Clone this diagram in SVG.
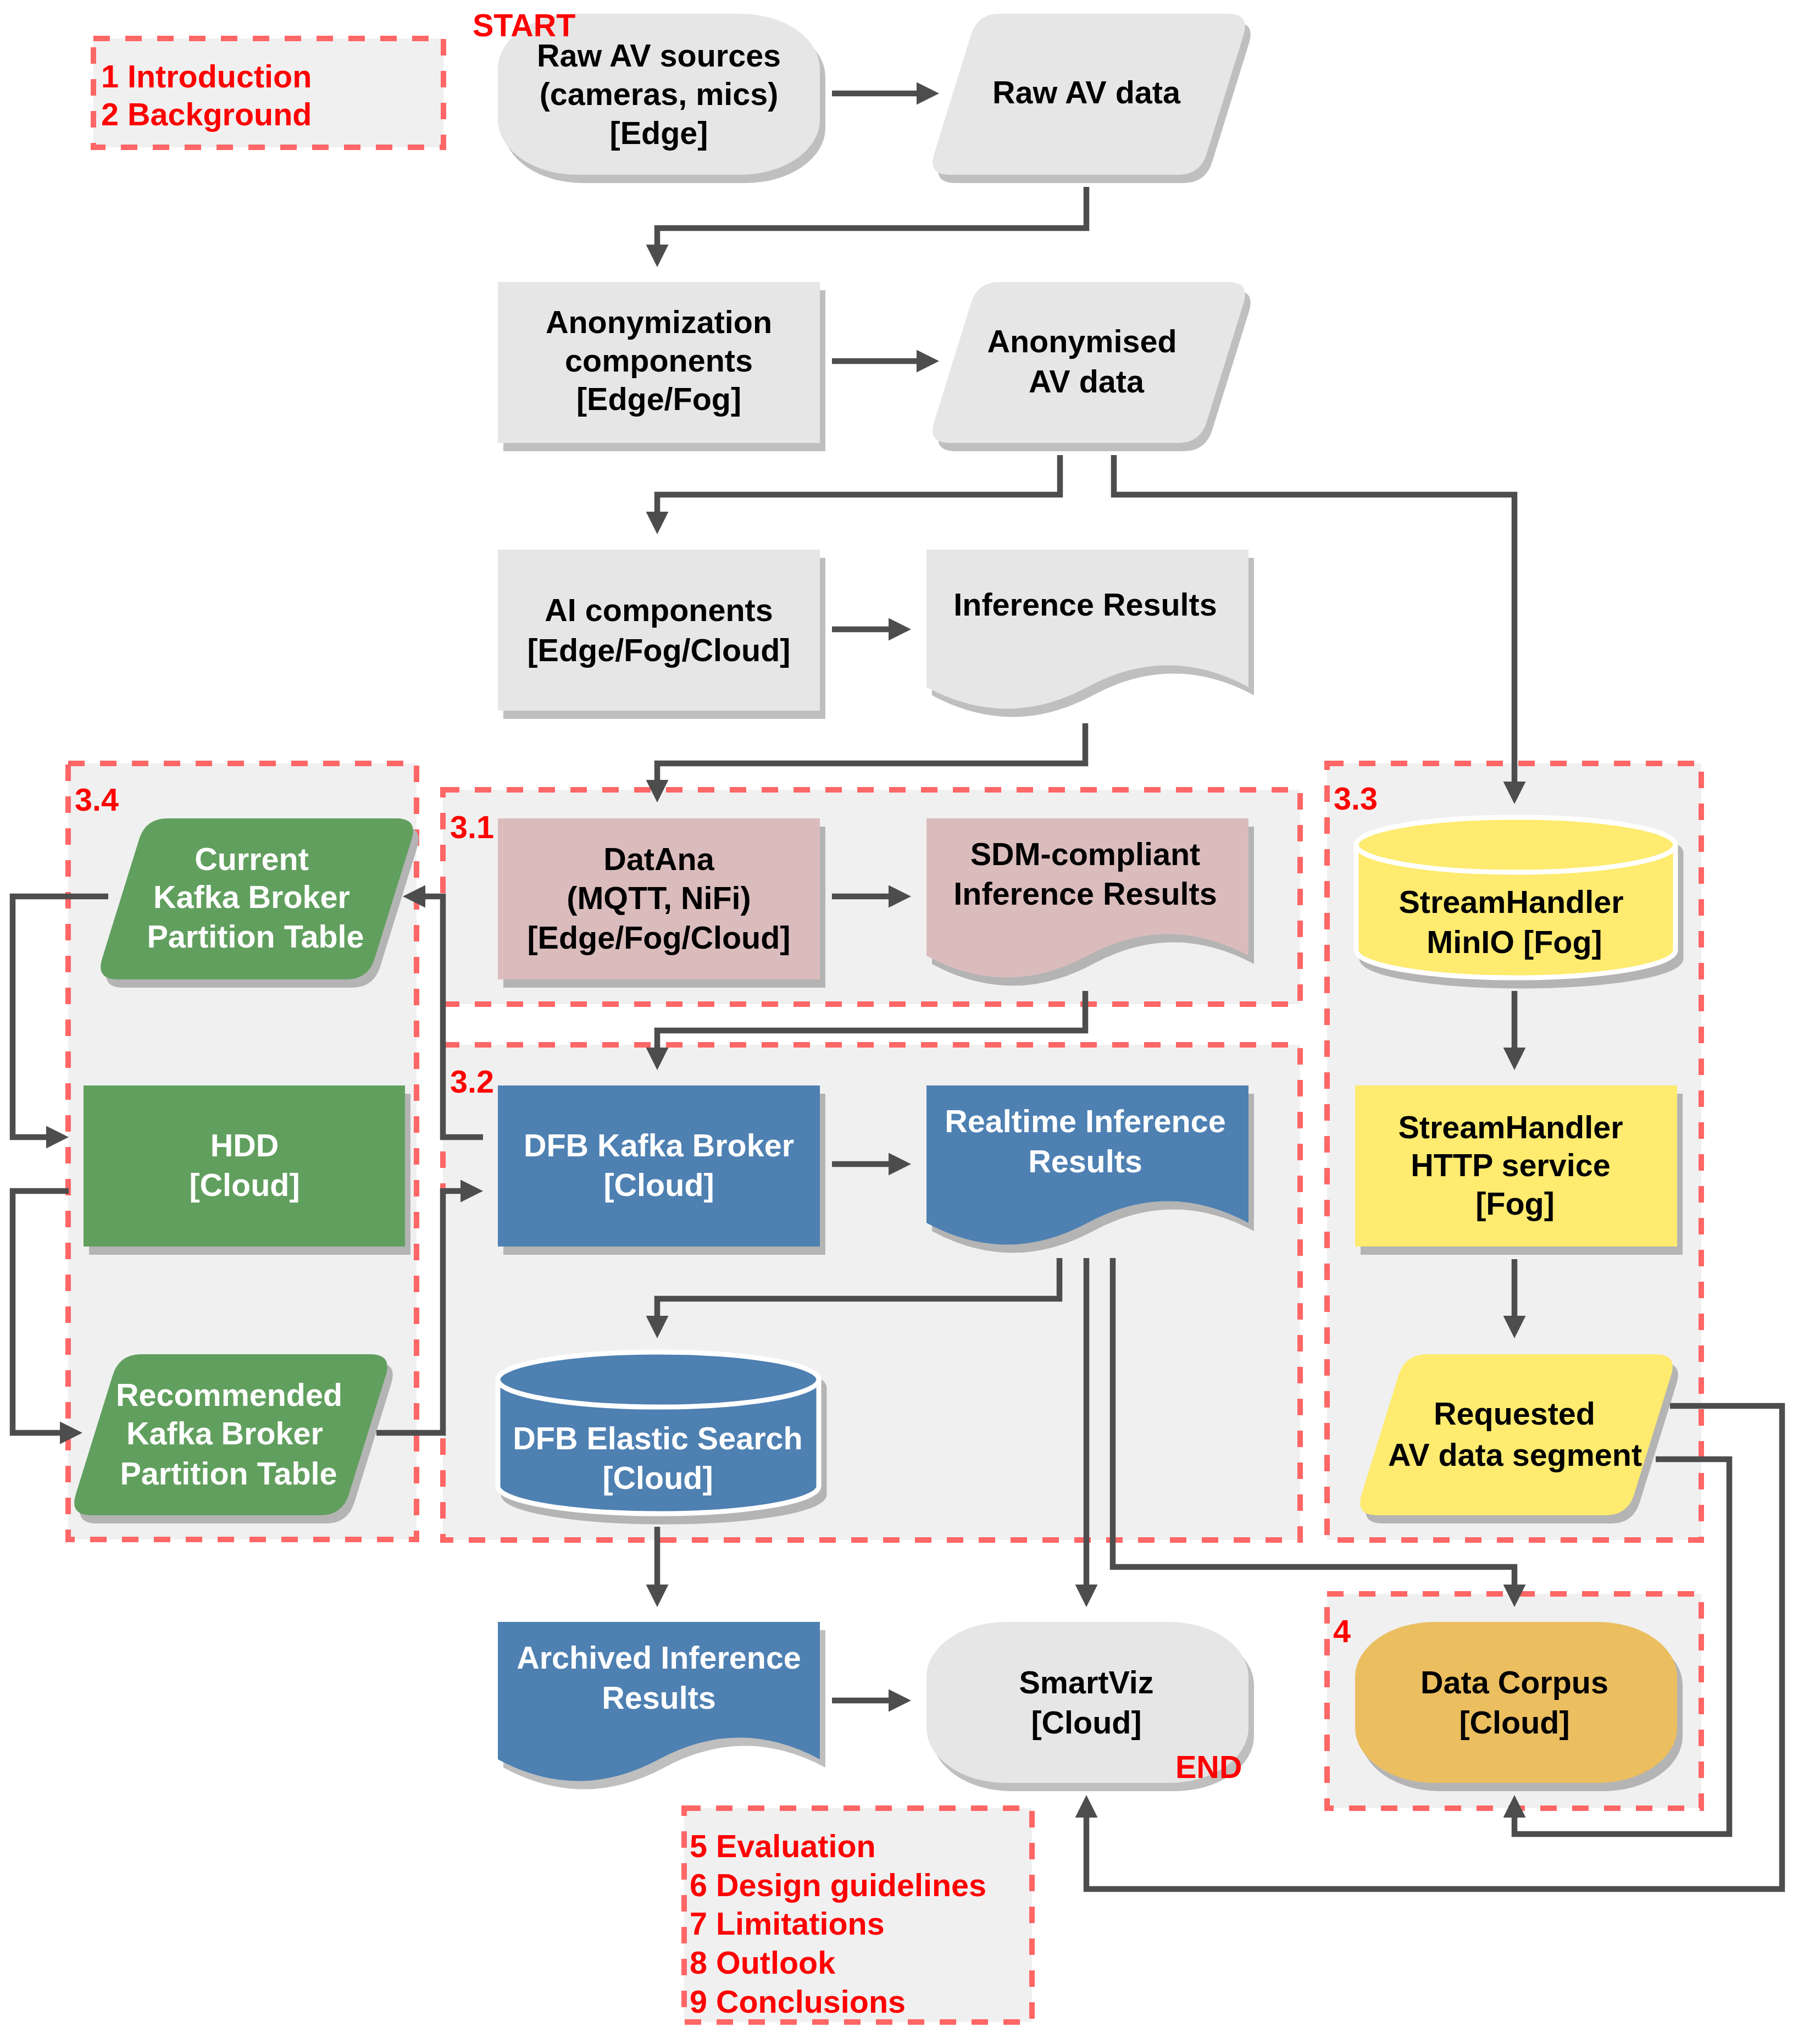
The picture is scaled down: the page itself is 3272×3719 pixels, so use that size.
<svg xmlns="http://www.w3.org/2000/svg" width="3272" height="3719" viewBox="0 0 3272 3719">
<defs>
<style>
.grp{fill:#F0F0F0;stroke:#FF6666;stroke-width:10;stroke-dasharray:30 28}
.con{fill:none;stroke:#4D4D4D;stroke-width:10.5;stroke-linejoin:miter}
.shw{fill:#BFBFBF}
.shg{fill:#B4B4B4}
.gray{fill:#E6E6E6}
.pink{fill:#DBBCBD}
.blue{fill:#4E80B2}
.green{fill:#619F5E}
.yellow{fill:#FEEB6F}
.orange{fill:#EBBE60}
.cyl{stroke:#FFFFFF;stroke-width:9}
.cylsh{stroke:#B4B4B4;stroke-width:9}
text{font-family:"Liberation Sans",Arial,Helvetica,sans-serif;font-weight:bold;font-size:57.5px}
.t{text-anchor:middle;fill:#000000}
.w{text-anchor:middle;fill:#FFFFFF}
.r{fill:#FF0000}
</style>
<marker id="ah" markerUnits="userSpaceOnUse" markerWidth="41" markerHeight="41" viewBox="0 0 41 41" refX="11" refY="20.5" orient="auto">
<path d="M0,0 L41,20.5 L0,41 z" fill="#4D4D4D"/>
</marker>
</defs>
<rect width="3272" height="3719" fill="#FFFFFF"/>

<g id="groups">
<rect id="g-intro" class="grp" x="170" y="70" width="637" height="198"/>
<rect id="g-34" class="grp" x="124" y="1389" width="634" height="1412"/>
<rect id="g-31" class="grp" x="806" y="1437" width="1560" height="390"/>
<rect id="g-32" class="grp" x="806" y="1901" width="1560" height="901"/>
<rect id="g-33" class="grp" x="2415" y="1389" width="681" height="1413"/>
<rect id="g-4" class="grp" x="2415" y="2900" width="681" height="390"/>
<rect id="g-sections" class="grp" x="1245" y="3290" width="633" height="389"/>
</g>

<g id="node-raw-sources">
<rect class="shw" x="916" y="40" width="586" height="293" rx="145" ry="100"/>
<rect class="gray" x="906" y="25" width="586" height="293" rx="145" ry="100"/>
<text class="t" x="1199" y="121">Raw AV sources</text>
<text class="t" x="1199" y="191">(cameras, mics)</text>
<text class="t" x="1199" y="262">[Edge]</text>
</g>

<g id="node-raw-data">
<path class="shw" transform="translate(10,15)" d="M1819,25 H2235 Q2275,25 2263.1,63.2 L2195.9,279.8 Q2184,318 2144,318 H1728 Q1688,318 1699.9,279.8 L1767.1,63.2 Q1779,25 1819,25 Z"/>
<path class="gray" d="M1819,25 H2235 Q2275,25 2263.1,63.2 L2195.9,279.8 Q2184,318 2144,318 H1728 Q1688,318 1699.9,279.8 L1767.1,63.2 Q1779,25 1819,25 Z"/>
<text class="t" x="1977" y="188">Raw AV data</text>
</g>

<g id="node-anonymization">
<rect class="shw" x="916" y="528" width="586" height="293"/>
<rect class="gray" x="906" y="513" width="586" height="293"/>
<text class="t" x="1199" y="606">Anonymization</text>
<text class="t" x="1199" y="676">components</text>
<text class="t" x="1199" y="746">[Edge/Fog]</text>
</g>

<g id="node-anonymised">
<path class="shw" transform="translate(10,15)" d="M1819,513 H2235 Q2275,513 2263.1,551.2 L2195.9,767.8 Q2184,806 2144,806 H1728 Q1688,806 1699.9,767.8 L1767.1,551.2 Q1779,513 1819,513 Z"/>
<path class="gray" d="M1819,513 H2235 Q2275,513 2263.1,551.2 L2195.9,767.8 Q2184,806 2144,806 H1728 Q1688,806 1699.9,767.8 L1767.1,551.2 Q1779,513 1819,513 Z"/>
<text class="t" x="1969" y="641">Anonymised</text>
<text class="t" x="1977" y="714">AV data</text>
</g>

<g id="node-ai">
<rect class="shw" x="916" y="1015" width="586" height="293"/>
<rect class="gray" x="906" y="1000" width="586" height="293"/>
<text class="t" x="1199" y="1130">AI components</text>
<text class="t" x="1199" y="1203">[Edge/Fog/Cloud]</text>
</g>

<g id="node-inference">
<path class="shw" transform="translate(10,15)" d="M1686,1000 H2272 V1250 Q2125.5,1171 1979,1250 Q1832.5,1329 1686,1250 Z"/>
<path class="gray" d="M1686,1000 H2272 V1250 Q2125.5,1171 1979,1250 Q1832.5,1329 1686,1250 Z"/>
<text class="t" x="1975" y="1120">Inference Results</text>
</g>

<g id="node-datana">
<rect class="shg" x="916" y="1504" width="586" height="293"/>
<rect class="pink" x="906" y="1489" width="586" height="293"/>
<text class="t" x="1199" y="1583">DatAna</text>
<text class="t" x="1199" y="1654">(MQTT, NiFi)</text>
<text class="t" x="1199" y="1726">[Edge/Fog/Cloud]</text>
</g>

<g id="node-sdm">
<path class="shg" transform="translate(10,15)" d="M1686,1489 H2272 V1739 Q2125.5,1660 1979,1739 Q1832.5,1818 1686,1739 Z"/>
<path class="pink" d="M1686,1489 H2272 V1739 Q2125.5,1660 1979,1739 Q1832.5,1818 1686,1739 Z"/>
<text class="t" x="1975" y="1574">SDM-compliant</text>
<text class="t" x="1975" y="1646">Inference Results</text>
</g>

<g id="node-current-kafka">
<path class="shg" transform="translate(10,15)" d="M305,1489 H721 Q761,1489 749.1,1527.2 L681.9,1743.8 Q670,1782 630,1782 H214 Q174,1782 185.9,1743.8 L253.1,1527.2 Q265,1489 305,1489 Z"/>
<path class="green" d="M305,1489 H721 Q761,1489 749.1,1527.2 L681.9,1743.8 Q670,1782 630,1782 H214 Q174,1782 185.9,1743.8 L253.1,1527.2 Q265,1489 305,1489 Z"/>
<text class="w" x="458" y="1583">Current</text>
<text class="w" x="458" y="1652">Kafka Broker</text>
<text class="w" x="465" y="1724">Partition Table</text>
</g>

<g id="node-hdd">
<rect class="shg" x="162" y="1990" width="585" height="293"/>
<rect class="green" x="152" y="1975" width="585" height="293"/>
<text class="w" x="445" y="2104">HDD</text>
<text class="w" x="445" y="2176">[Cloud]</text>
</g>

<g id="node-recommended">
<path class="shg" transform="translate(10,15)" d="M257,2464 H674 Q714,2464 702.1,2502.2 L634.9,2718.8 Q623,2757 583,2757 H166 Q126,2757 137.9,2718.8 L205.1,2502.2 Q217,2464 257,2464 Z"/>
<path class="green" d="M257,2464 H674 Q714,2464 702.1,2502.2 L634.9,2718.8 Q623,2757 583,2757 H166 Q126,2757 137.9,2718.8 L205.1,2502.2 Q217,2464 257,2464 Z"/>
<text class="w" x="417" y="2558">Recommended</text>
<text class="w" x="409" y="2628">Kafka Broker</text>
<text class="w" x="416" y="2701">Partition Table</text>
</g>

<g id="node-dfb-kafka">
<rect class="shg" x="916" y="1990" width="586" height="293"/>
<rect class="blue" x="906" y="1975" width="586" height="293"/>
<text class="w" x="1199" y="2104">DFB Kafka Broker</text>
<text class="w" x="1199" y="2176">[Cloud]</text>
</g>

<g id="node-realtime">
<path class="shg" transform="translate(10,15)" d="M1686,1975 H2272 V2225 Q2125.5,2146 1979,2225 Q1832.5,2304 1686,2225 Z"/>
<path class="blue" d="M1686,1975 H2272 V2225 Q2125.5,2146 1979,2225 Q1832.5,2304 1686,2225 Z"/>
<text class="w" x="1975" y="2060">Realtime Inference</text>
<text class="w" x="1975" y="2133">Results</text>
</g>

<g id="node-elastic">
<path class="shg cylsh" transform="translate(10,15)" d="M906,2510 A292,50 0 0 1 1490,2510 V2704 A292,50 0 0 1 906,2704 Z"/>
<path class="blue cyl" d="M906,2510 A292,50 0 0 1 1490,2510 V2704 A292,50 0 0 1 906,2704 Z"/>
<path class="cyl" fill="none" d="M906,2510 A292,50 0 0 0 1490,2510"/>
<text class="w" x="1197" y="2637">DFB Elastic Search</text>
<text class="w" x="1197" y="2709">[Cloud]</text>
</g>

<g id="node-minio">
<path class="shg cylsh" transform="translate(10,15)" d="M2468,1537 A290.5,50 0 0 1 3049,1537 V1729 A290.5,50 0 0 1 2468,1729 Z"/>
<path class="yellow cyl" d="M2468,1537 A290.5,50 0 0 1 3049,1537 V1729 A290.5,50 0 0 1 2468,1729 Z"/>
<path class="cyl" fill="none" d="M2468,1537 A290.5,50 0 0 0 3049,1537"/>
<text class="t" x="2750" y="1661">StreamHandler</text>
<text class="t" x="2756" y="1734">MinIO [Fog]</text>
</g>

<g id="node-http">
<rect class="shg" x="2476" y="1990" width="586" height="293"/>
<rect class="yellow" x="2466" y="1975" width="586" height="293"/>
<text class="t" x="2749" y="2071">StreamHandler</text>
<text class="t" x="2749" y="2140">HTTP service</text>
<text class="t" x="2757" y="2210">[Fog]</text>
</g>

<g id="node-requested">
<path class="shg" transform="translate(10,15)" d="M2597,2464 H3013 Q3053,2464 3041.1,2502.2 L2973.9,2718.8 Q2962,2757 2922,2757 H2506 Q2466,2757 2477.9,2718.8 L2545.1,2502.2 Q2557,2464 2597,2464 Z"/>
<path class="yellow" d="M2597,2464 H3013 Q3053,2464 3041.1,2502.2 L2973.9,2718.8 Q2962,2757 2922,2757 H2506 Q2466,2757 2477.9,2718.8 L2545.1,2502.2 Q2557,2464 2597,2464 Z"/>
<text class="t" x="2756" y="2592">Requested</text>
<text class="t" x="2757" y="2667">AV data segment</text>
</g>

<g id="node-archived">
<path class="shw" transform="translate(10,15)" d="M906,2951 H1492 V3201 Q1345.5,3122 1199,3201 Q1052.5,3280 906,3201 Z"/>
<path class="blue" d="M906,2951 H1492 V3201 Q1345.5,3122 1199,3201 Q1052.5,3280 906,3201 Z"/>
<text class="w" x="1199" y="3036">Archived Inference</text>
<text class="w" x="1199" y="3109">Results</text>
</g>

<g id="node-smartviz">
<rect class="shw" x="1696" y="2966" width="586" height="293" rx="145" ry="100"/>
<rect class="gray" x="1686" y="2951" width="586" height="293" rx="145" ry="100"/>
<text class="t" x="1977" y="3081">SmartViz</text>
<text class="t" x="1977" y="3154">[Cloud]</text>
</g>

<g id="node-corpus">
<rect class="shg" x="2476" y="2966" width="586" height="293" rx="145" ry="100"/>
<rect class="orange" x="2466" y="2951" width="586" height="293" rx="145" ry="100"/>
<text class="t" x="2756" y="3081">Data Corpus</text>
<text class="t" x="2756" y="3154">[Cloud]</text>
</g>

<g id="connectors">
<path class="con" marker-end="url(#ah)" d="M1514,170 H1679"/>
<path class="con" marker-end="url(#ah)" d="M1977,340 V415 H1196 V456"/>
<path class="con" marker-end="url(#ah)" d="M1514,657 H1679"/>
<path class="con" marker-end="url(#ah)" d="M1929,828 V900 H1196 V942"/>
<path class="con" marker-end="url(#ah)" d="M2027,828 V900 H2756 V1433"/>
<path class="con" marker-end="url(#ah)" d="M1514,1145 H1628"/>
<path class="con" marker-end="url(#ah)" d="M1975,1316 V1389 H1196 V1430"/>
<path class="con" marker-end="url(#ah)" d="M1514,1631 H1628"/>
<path class="con" marker-end="url(#ah)" d="M1975,1803 V1875 H1196 V1917"/>
<path class="con" marker-end="url(#ah)" d="M879,2069 H806 V1631 H763"/>
<path class="con" marker-end="url(#ah)" d="M197,1631 H23 V2069 H95"/>
<path class="con" marker-end="url(#ah)" d="M125,2167 H23 V2607 H120"/>
<path class="con" marker-end="url(#ah)" d="M685,2607 H806 V2167 H849"/>
<path class="con" marker-end="url(#ah)" d="M1514,2118 H1628"/>
<path class="con" marker-end="url(#ah)" d="M1928,2289 V2363 H1196 V2405"/>
<path class="con" marker-end="url(#ah)" d="M1977,2289 V2894"/>
<path class="con" marker-end="url(#ah)" d="M2025,2289 V2851 H2756 V2894"/>
<path class="con" marker-end="url(#ah)" d="M2756,1803 V1917"/>
<path class="con" marker-end="url(#ah)" d="M2756,2291 V2405"/>
<path class="con" marker-end="url(#ah)" d="M1196,2778 V2894"/>
<path class="con" marker-end="url(#ah)" d="M1514,3094 H1628"/>
<path class="con" marker-end="url(#ah)" d="M3039,2558 H3243 V3437 H1977 V3296"/>
<path class="con" marker-end="url(#ah)" d="M3013,2655 H3147 V3337 H2756 V3296"/>
</g>

<g id="labels">
<text class="r" x="860" y="66">START</text>
<text class="r" x="2139" y="3235">END</text>
<text class="r" x="184" y="159">1 Introduction</text>
<text class="r" x="184" y="228">2 Background</text>
<text class="r" x="136" y="1475">3.4</text>
<text class="r" x="819" y="1525">3.1</text>
<text class="r" x="819" y="1988">3.2</text>
<text class="r" x="2427" y="1473">3.3</text>
<text class="r" x="2426" y="2988">4</text>
<text class="r" x="1255" y="3379">5 Evaluation</text>
<text class="r" x="1255" y="3450">6 Design guidelines</text>
<text class="r" x="1255" y="3520">7 Limitations</text>
<text class="r" x="1255" y="3591">8 Outlook</text>
<text class="r" x="1255" y="3662">9 Conclusions</text>
</g>
</svg>
